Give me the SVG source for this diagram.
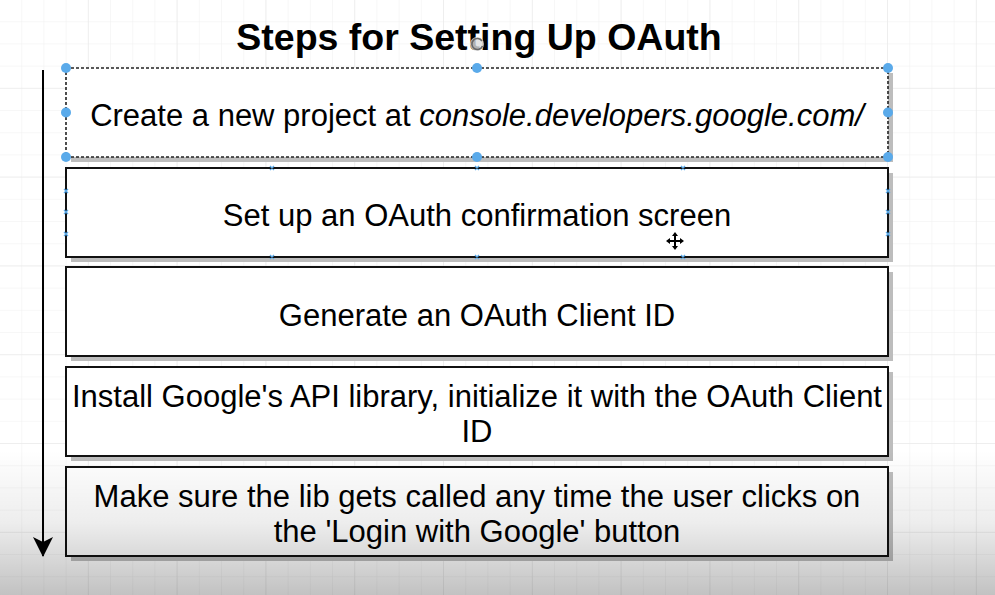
<svg xmlns="http://www.w3.org/2000/svg" width="995" height="595" viewBox="0 0 995 595">
<defs>
<pattern id="gridMinor" width="22.2" height="22.2" patternUnits="userSpaceOnUse" x="0" y="0">
<path d="M22.2 0V22.2M0 22.2H22.2" fill="none" stroke="#f0f0f0" stroke-width="1"/>
</pattern>
<pattern id="gridMajor" width="88.8" height="88.8" patternUnits="userSpaceOnUse" x="0" y="0">
<path d="M88.8 0V88.8M0 88.8H88.8" fill="none" stroke="#e6e6e6" stroke-width="1"/>
</pattern>
<linearGradient id="fade" x1="0" y1="0" x2="0" y2="1">
<stop offset="0" stop-color="#000" stop-opacity="0"/>
<stop offset="0.5" stop-color="#000" stop-opacity="0.07"/>
<stop offset="1" stop-color="#000" stop-opacity="0.24"/>
</linearGradient>
<marker id="arrowHead" markerWidth="22" markerHeight="22" refX="19" refY="11" orient="auto" markerUnits="userSpaceOnUse">
<path d="M0 1L20 11L0 21L5 11Z" fill="#000"/>
</marker>
</defs>
<style>
.shadow{fill:#bdbdbd}
.box{fill:#fff;stroke:#111;stroke-width:2}
.sel{fill:#fff;stroke:#222;stroke-width:1.6;stroke-dasharray:3 2}
.txt{font-family:"Liberation Sans",Arial,sans-serif;font-size:31px;fill:#000;text-anchor:middle}
.title{font-family:"Liberation Sans",Arial,sans-serif;font-size:37.5px;font-weight:bold;fill:#000;text-anchor:middle}
.handle{fill:#5aaaea}
.pt{stroke:#5aaaea;stroke-width:1.3}
</style>
<rect width="995" height="595" fill="#fff"/>
<rect width="995" height="595" fill="url(#gridMinor)"/>
<rect width="995" height="595" fill="url(#gridMajor)"/>

<text class="title" x="479" y="50">Steps for Setting Up OAuth</text>

<g id="connectors">
<line x1="43" y1="70" x2="43" y2="556" stroke="#000" stroke-width="2" marker-end="url(#arrowHead)"/>
</g>

<g id="step1">
<rect class="shadow" x="71" y="73" width="822" height="89"/>
<rect class="sel" x="66" y="68" width="822" height="89"/>
<text class="txt" x="477" y="126">Create a new project at <tspan font-style="italic">console.developers.google.com/</tspan></text>
</g>

<g id="step2">
<rect class="shadow" x="71" y="173" width="822" height="89"/>
<rect class="box" x="66" y="168" width="822" height="89"/>
<text class="txt" x="477" y="226">Set up an OAuth confirmation screen</text>
</g>

<g id="step3">
<rect class="shadow" x="71" y="272" width="822" height="89"/>
<rect class="box" x="66" y="267" width="822" height="89"/>
<text class="txt" x="477" y="326">Generate an OAuth Client ID</text>
</g>

<g id="step4">
<rect class="shadow" x="71" y="372" width="822" height="89"/>
<rect class="box" x="66" y="367" width="822" height="89"/>
<text class="txt" x="477" y="407">Install Google's API library, initialize it with the OAuth Client</text>
<text class="txt" x="477" y="442">ID</text>
</g>

<g id="step5">
<rect class="shadow" x="71" y="472" width="822" height="89"/>
<rect class="box" x="66" y="467" width="822" height="89"/>
<text class="txt" x="477" y="507">Make sure the lib gets called any time the user clicks on</text>
<text class="txt" x="477" y="542">the 'Login with Google' button</text>
</g>

<g id="selection-handles">
<circle class="handle" cx="66" cy="68" r="5"/>
<circle class="handle" cx="477" cy="68" r="5"/>
<circle class="handle" cx="888" cy="68" r="5"/>
<circle class="handle" cx="66" cy="112.5" r="5"/>
<circle class="handle" cx="888" cy="112.5" r="5"/>
<circle class="handle" cx="66" cy="157" r="5"/>
<circle class="handle" cx="477" cy="157" r="5"/>
<circle class="handle" cx="888" cy="157" r="5"/>
<g class="pt">
<path d="M270 166l4 4M274 166l-4 4M475 166l4 4M479 166l-4 4M681 166l4 4M685 166l-4 4"/>
<path d="M270 255l4 4M274 255l-4 4M475 255l4 4M479 255l-4 4M681 255l4 4M685 255l-4 4"/>
<path d="M64 189l4 4M68 189l-4 4M64 210l4 4M68 210l-4 4M64 232l4 4M68 232l-4 4"/>
<path d="M886 189l4 4M890 189l-4 4M886 210l4 4M890 210l-4 4M886 232l4 4M890 232l-4 4"/>
</g>
<circle cx="477" cy="44" r="7" fill="#ddd" opacity="0.8"/>
<path d="M482 41A5.5 5.5 0 1 0 482.5 46" fill="none" stroke="#666" stroke-width="1.6"/>
<path d="M675 234v14M668 241h14" stroke="#000" stroke-width="2"/>
<path d="M675 232l-3 4h6zM675 250l-3-4h6zM666 241l4-3v6zM684 241l-4-3v6z" fill="#000"/>
</g>

<rect x="0" y="450" width="995" height="145" fill="url(#fade)"/>
</svg>
